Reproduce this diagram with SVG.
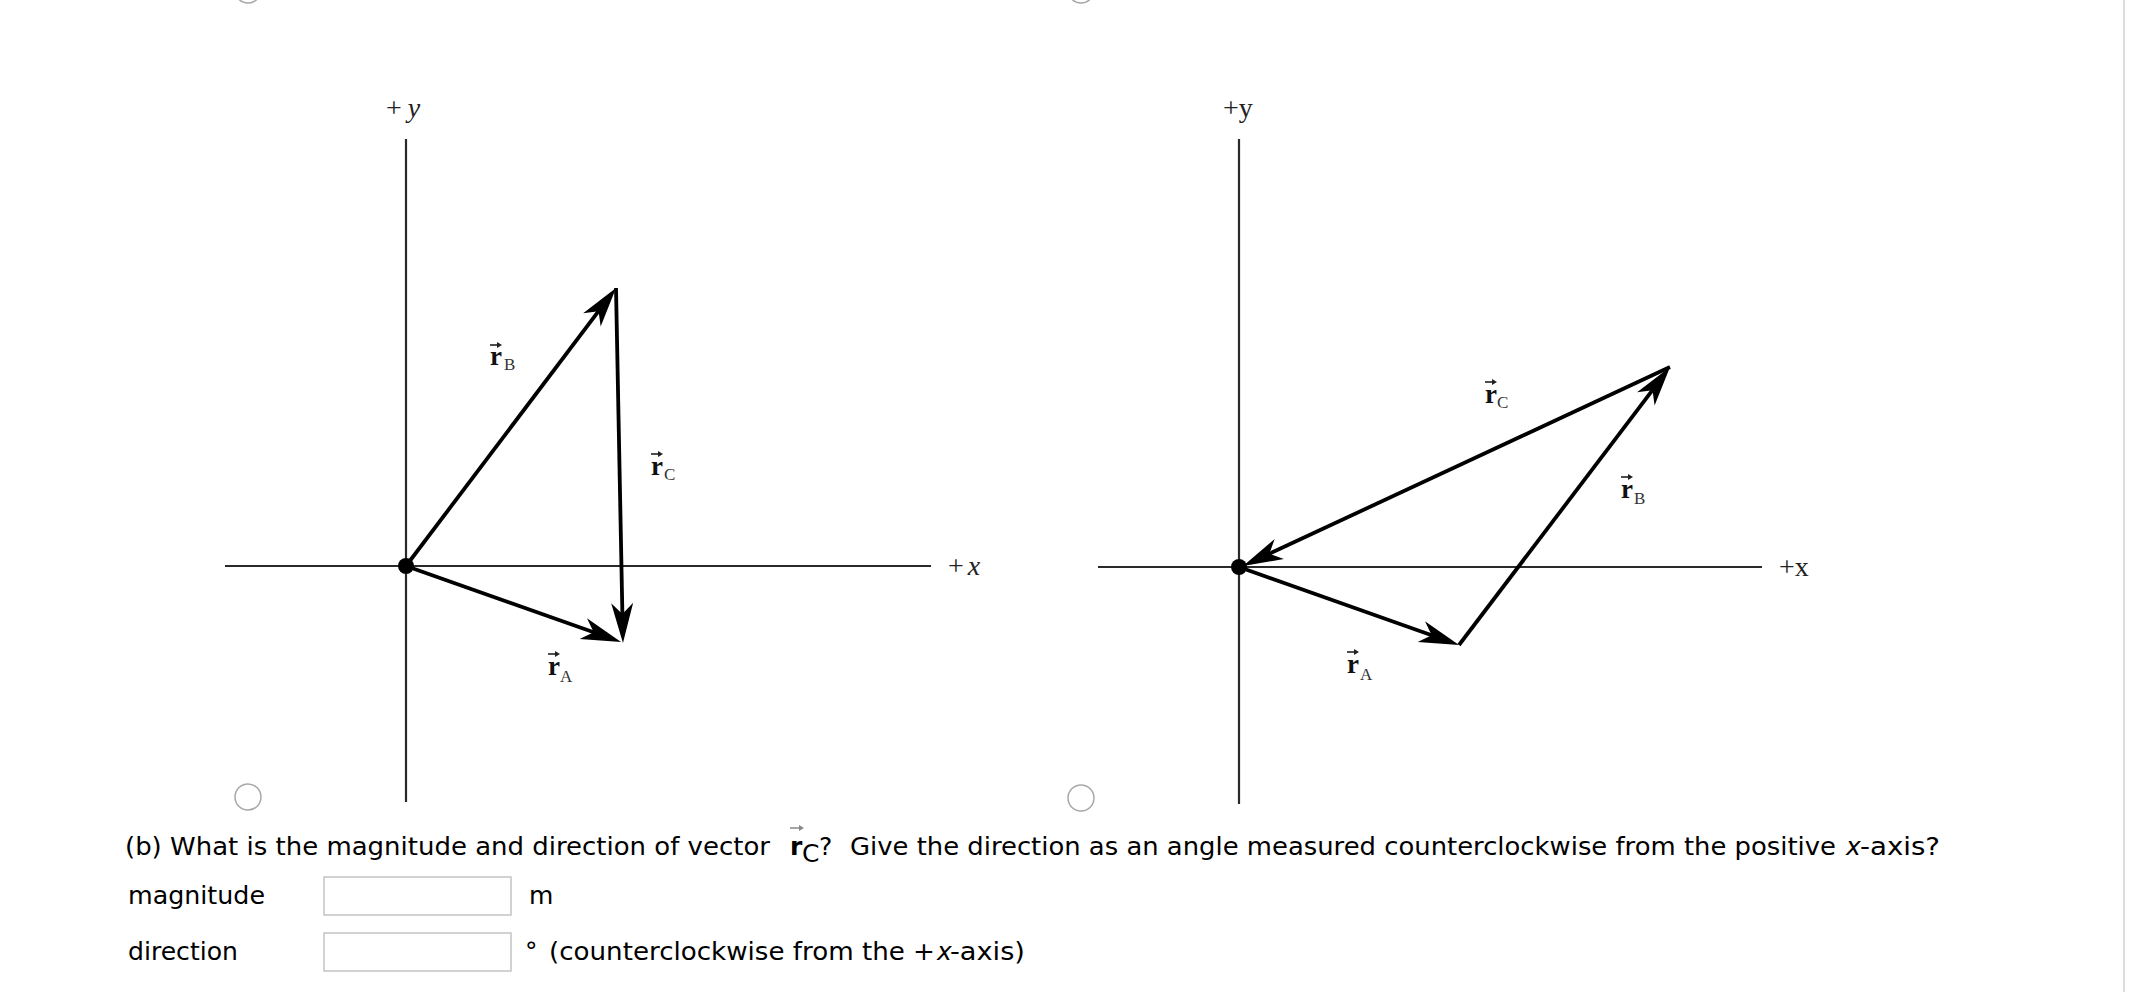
<svg xmlns="http://www.w3.org/2000/svg" width="2138" height="992" viewBox="0 0 2138 992">
<style>
.axis{stroke:#2a2a2a;stroke-width:2.2;fill:none}
.vec{stroke:#000;stroke-width:3.8;fill:none;marker-end:url(#ah)}
.ax{font-family:"Liberation Serif",serif;font-size:28px;fill:#222}
.r{font-family:"Liberation Serif",serif;font-size:27px;font-weight:bold;fill:#111}
.sub{font-family:"Liberation Serif",serif;font-size:17px;fill:#333}
.q{font-family:Verdana,"DejaVu Sans",sans-serif;font-size:25px;fill:#000}
.box{fill:#fff;stroke:#c4c4c4;stroke-width:1.5}
.radio{fill:#fff;stroke:#a8a8a8;stroke-width:1.5}
</style>
<defs>
<marker id="ah" viewBox="-34 -13 44 26" refX="0" refY="0" markerWidth="44" markerHeight="26" markerUnits="userSpaceOnUse" orient="auto">
<path d="M8,0 L-32,-11 L-21,0 L-32,11 Z" fill="#000"/>
</marker>
<g id="ovarrow"><path d="M0,0 H10" stroke="#222" stroke-width="1.6"/><path d="M12,0 L7,-3 L7,3 Z" fill="#222"/></g>
</defs>
<rect width="2138" height="992" fill="#fff"/>
<line x1="2124" y1="0" x2="2124" y2="992" stroke="#d0d0d0" stroke-width="1.5"/>

<!-- partial radios at top -->
<g id="radio-top-left"><circle class="radio" cx="248" cy="-10" r="13"/></g>
<g id="radio-top-right"><circle class="radio" cx="1081" cy="-10" r="13"/></g>

<!-- Left diagram -->
<g id="left-axes">
<line class="axis" x1="406" y1="139" x2="406" y2="802"/>
<line class="axis" x1="225" y1="566" x2="931" y2="566"/>
<text class="ax" x="386" y="117">+<tspan font-style="italic" dx="6">y</tspan></text>
<text class="ax" x="948" y="575">+<tspan font-style="italic" dx="4">x</tspan></text>
<circle cx="406" cy="566" r="8" fill="#000"/>
</g>
<g id="left-connectors">
<line class="vec" x1="406" y1="566" x2="611.2" y2="294.4"/>
<line class="vec" x1="616" y1="288" x2="622.8" y2="635"/>
<line class="vec" x1="406" y1="566" x2="613.5" y2="639.3"/>
</g>
<g id="left-label-rB">
<use href="#ovarrow" x="490" y="345"/>
<text class="r" x="490" y="365">r</text><text class="sub" x="504" y="370">B</text>
</g>
<g id="left-label-rC">
<use href="#ovarrow" x="651" y="454"/>
<text class="r" x="651" y="475">r</text><text class="sub" x="664" y="480">C</text>
</g>
<g id="left-label-rA">
<use href="#ovarrow" x="548" y="654"/>
<text class="r" x="548" y="675">r</text><text class="sub" x="560" y="682">A</text>
</g>
<g id="radio-left"><circle class="radio" cx="248" cy="797" r="13"/></g>

<!-- Right diagram -->
<g id="right-axes">
<line class="axis" x1="1239" y1="139" x2="1239" y2="804"/>
<line class="axis" x1="1098" y1="567" x2="1762" y2="567"/>
<text class="ax" x="1223" y="117">+y</text>
<text class="ax" x="1779" y="576">+x</text>
<circle cx="1239" cy="567" r="8" fill="#000"/>
</g>
<g id="right-connectors">
<line class="vec" x1="1239" y1="567" x2="1451.5" y2="642.3"/>
<line class="vec" x1="1459" y1="645" x2="1665.2" y2="373.4"/>
<line class="vec" x1="1670" y1="367" x2="1250.3" y2="562.6"/>
</g>
<g id="right-label-rC">
<use href="#ovarrow" x="1485" y="382"/>
<text class="r" x="1485" y="403">r</text><text class="sub" x="1497" y="408">C</text>
</g>
<g id="right-label-rB">
<use href="#ovarrow" x="1621" y="477"/>
<text class="r" x="1621" y="498">r</text><text class="sub" x="1634" y="504">B</text>
</g>
<g id="right-label-rA">
<use href="#ovarrow" x="1347" y="652"/>
<text class="r" x="1347" y="673">r</text><text class="sub" x="1360" y="680">A</text>
</g>
<g id="radio-right"><circle class="radio" cx="1081" cy="798" r="13"/></g>

<!-- Question text -->
<g id="question">
<text class="q" x="125" y="855" textLength="645" lengthAdjust="spacingAndGlyphs">(b) What is the magnitude and direction of vector</text>
<path d="M790,828 H800" stroke="#888" stroke-width="1.5"/><path d="M804,828 L799,825 L799,831 Z" fill="#888"/>
<text class="q" x="790" y="855" font-weight="bold">r</text>
<text class="q" x="802" y="862" font-size="20px">C</text>
<text class="q" x="819" y="855">?</text>
<text class="q" x="850" y="855" textLength="986" lengthAdjust="spacingAndGlyphs">Give the direction as an angle measured counterclockwise from the positive</text>
<text class="q" x="1846" y="855" font-style="italic">x</text>
<text class="q" x="1860" y="855" textLength="80" lengthAdjust="spacingAndGlyphs">-axis?</text>
</g>
<g id="magnitude-row">
<text class="q" x="128" y="904" textLength="137" lengthAdjust="spacingAndGlyphs">magnitude</text>
<rect class="box" x="324" y="877" width="187" height="38"/>
<text class="q" x="529" y="904">m</text>
</g>
<g id="direction-row">
<text class="q" x="128" y="960" textLength="110" lengthAdjust="spacingAndGlyphs">direction</text>
<rect class="box" x="324" y="933" width="187" height="38"/>
<text class="q" x="525" y="960">°</text>
<text class="q" x="549" y="960" textLength="386" lengthAdjust="spacingAndGlyphs">(counterclockwise from the +</text>
<text class="q" x="937" y="960" font-style="italic">x</text>
<text class="q" x="950" y="960" textLength="75" lengthAdjust="spacingAndGlyphs">-axis)</text>
</g>
</svg>
